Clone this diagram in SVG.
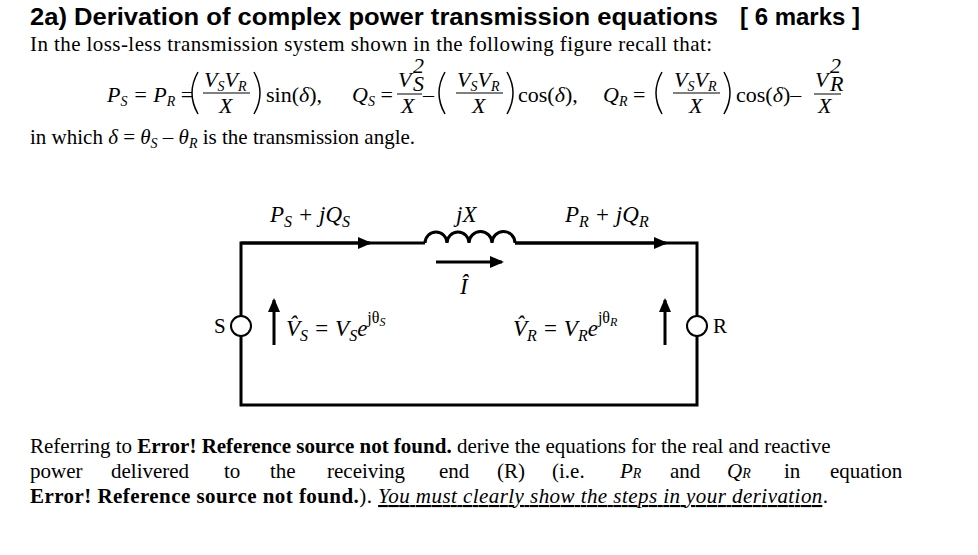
<svg xmlns="http://www.w3.org/2000/svg" width="978" height="555" viewBox="0 0 978 555">
<style>
.t{font-family:"Liberation Serif",serif;font-size:21px;fill:#000}
.e{font-family:"Liberation Serif",serif;font-size:22px;fill:#000}
.i{font-style:italic}
.s{font-size:14px}
.w{stroke:#000;stroke-width:3;fill:none}
.p{stroke:#000;stroke-width:1.5;fill:none}
.c{font-family:"Liberation Serif",serif;font-style:italic;font-size:23px}
</style>
<defs><marker id="b" markerWidth="14" markerHeight="12" refX="12" refY="6" orient="auto" markerUnits="userSpaceOnUse"><path d="M0,0 L14,6 L0,12Z" fill="#000"/></marker></defs>
<rect width="978" height="555" fill="#fff"/>
<text x="30" y="25" font-family="Liberation Sans,sans-serif" font-weight="bold" font-size="24" textLength="688" lengthAdjust="spacingAndGlyphs">2a) Derivation of complex power transmission equations</text>
<text x="740" y="25" font-family="Liberation Sans,sans-serif" font-weight="bold" font-size="24">[ 6 marks ]</text>
<text class="t" x="30" y="51" textLength="682">In the loss-less transmission system shown in the following figure recall that:</text>
<g id="equations">
<text class="e i" x="107" y="102">P<tspan class="s" dy="4">S</tspan><tspan dy="-4"> = P</tspan><tspan class="s" dy="4">R</tspan><tspan dy="-4" font-style="normal"> =</tspan></text>
<path class="p" d="M198,72 Q186,93 198,114"/>
<text class="e i" x="204" y="87">V<tspan class="s" dy="4">S</tspan><tspan dy="-4">V</tspan><tspan class="s" dy="4">R</tspan></text>
<line x1="203" y1="93" x2="250" y2="93" stroke="#000"/>
<text class="e i" x="219" y="113">X</text>
<path class="p" d="M254,72 Q266,93 254,114"/>
<text class="e" x="266" y="102">sin(<tspan class="i">δ</tspan>),</text>
<text class="e i" x="352" y="102">Q<tspan class="s" dy="4">S</tspan><tspan dy="-4" font-style="normal"> =</tspan></text>
<text class="e i" x="398" y="87">V</text>
<text class="e i" font-size="13" x="413" y="73">2</text>
<text class="e i" font-size="12" x="413" y="91">S</text>
<line x1="397" y1="94" x2="422" y2="94" stroke="#000"/>
<text class="e i" x="401" y="113">X</text>
<text class="e" x="423" y="102">–</text>
<path class="p" d="M445,72 Q433,93 445,114"/>
<text class="e i" x="457" y="87">V<tspan class="s" dy="4">S</tspan><tspan dy="-4">V</tspan><tspan class="s" dy="4">R</tspan></text>
<line x1="456" y1="93" x2="503" y2="93" stroke="#000"/>
<text class="e i" x="472" y="113">X</text>
<path class="p" d="M507,72 Q519,93 507,114"/>
<text class="e" x="518" y="102">cos(<tspan class="i">δ</tspan>),</text>
<text class="e i" x="603" y="102">Q<tspan class="s" dy="4">R</tspan><tspan dy="-4" font-style="normal"> =</tspan></text>
<path class="p" d="M662,72 Q650,93 662,114"/>
<text class="e i" x="674" y="87">V<tspan class="s" dy="4">S</tspan><tspan dy="-4">V</tspan><tspan class="s" dy="4">R</tspan></text>
<line x1="673" y1="93" x2="720" y2="93" stroke="#000"/>
<text class="e i" x="689" y="113">X</text>
<path class="p" d="M724,72 Q736,93 724,114"/>
<text class="e" x="736" y="102">cos(<tspan class="i">δ</tspan>)–</text>
<text class="e i" x="815" y="87">V</text>
<text class="e i" font-size="13" x="830" y="73">2</text>
<text class="e i" font-size="12" x="830" y="91">R</text>
<line x1="814" y1="94" x2="841" y2="94" stroke="#000"/>
<text class="e i" x="818" y="113">X</text>
</g>
<text class="t" x="30" y="144">in which <tspan class="i">δ</tspan> = <tspan class="i">θ</tspan><tspan class="s i" dy="4">S</tspan><tspan dy="-4"> – </tspan><tspan class="i">θ</tspan><tspan class="s i" dy="4">R</tspan><tspan dy="-4">  is the transmission angle.</tspan></text>
<g id="connectors">
<path class="w" d="M425,243 H241 V316 M241,336 V405 H697 V336 M697,316 V243 H515"/>
<path class="w" d="M425,243 a11,11 0 0 1 22,0 a11,11 0 0 1 22,0 a11,11 0 0 1 23,0 a11,11 0 0 1 23,0"/>
<line x1="241" y1="243" x2="370" y2="243" stroke="#000" stroke-width="3" marker-end="url(#b)"/>
<line x1="515" y1="243" x2="666" y2="243" stroke="#000" stroke-width="3" marker-end="url(#b)"/>
<line x1="436" y1="262" x2="502" y2="262" stroke="#000" stroke-width="3" marker-end="url(#b)"/>
<line x1="274" y1="345" x2="274" y2="300" stroke="#000" stroke-width="3" marker-end="url(#b)"/>
<line x1="665" y1="345" x2="665" y2="300" stroke="#000" stroke-width="3" marker-end="url(#b)"/>
</g>
<g id="S"><circle cx="241" cy="326" r="10" fill="#fff" stroke="#000" stroke-width="2"/><text class="t" x="214" y="333">S</text></g>
<g id="R"><circle cx="697" cy="326" r="10" fill="#fff" stroke="#000" stroke-width="2"/><text class="t" x="713" y="333">R</text></g>
<g id="labels" class="c">
<text x="270" y="222">P<tspan font-size="16" dy="5">S</tspan><tspan dy="-5"> + jQ</tspan><tspan font-size="16" dy="5">S</tspan></text>
<text x="456" y="222">jX</text>
<text x="565" y="222">P<tspan font-size="16" dy="5">R</tspan><tspan dy="-5"> + jQ</tspan><tspan font-size="16" dy="5">R</tspan></text>
<text x="460" y="294">Î</text>
<text x="286" y="336">V̂<tspan font-size="16" dy="5">S</tspan><tspan dy="-5">  =  V</tspan><tspan font-size="16" dy="5">S</tspan><tspan dy="-5">e</tspan><tspan font-size="16" dy="-13" font-style="normal">jθ</tspan><tspan font-size="12" dy="3">S</tspan></text>
<text x="513" y="336">V̂<tspan font-size="16" dy="5">R</tspan><tspan dy="-5">  =  V</tspan><tspan font-size="16" dy="5">R</tspan><tspan dy="-5">e</tspan><tspan font-size="16" dy="-13" font-style="normal">jθ</tspan><tspan font-size="12" dy="3">R</tspan></text>
</g>
<text class="t" x="30" y="453">Referring to <tspan font-weight="bold">Error! Reference source not found.</tspan> derive the equations for the real and reactive</text>
<g class="t">
<text x="30" y="478">power</text><text x="111" y="478">delivered</text><text x="224" y="478">to</text><text x="270" y="478">the</text><text x="327" y="478">receiving</text><text x="439" y="478">end</text><text x="497" y="478">(R)</text><text x="552" y="478">(i.e.</text>
<text x="620" y="478" class="i">P<tspan class="s">R</tspan></text><text x="670" y="478">and</text><text x="727" y="478" class="i">Q<tspan class="s">R</tspan></text><text x="784" y="478">in</text><text x="830" y="478">equation</text>
</g>
<text class="t" x="30" y="503" textLength="798"><tspan font-weight="bold">Error! Reference source not found.</tspan>). <tspan class="i" text-decoration="underline">You must clearly show the steps in your derivation</tspan>.</text>
</svg>
